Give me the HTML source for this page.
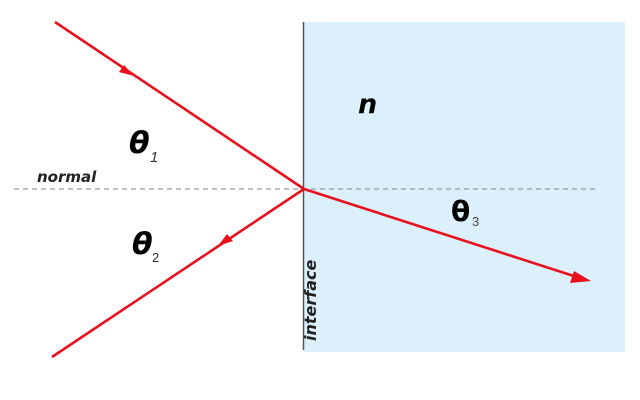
<!DOCTYPE html>
<html><head><style>body{margin:0;background:#fff}svg{display:block}</style></head><body>
<svg width="640" height="400" xmlns="http://www.w3.org/2000/svg" font-family="Liberation Sans, DejaVu Sans, sans-serif">
<rect x="304" y="22" width="321" height="330" fill="#dcf0fc"/>
<line x1="14" y1="189" x2="598" y2="189" stroke="#999" stroke-width="1.3" stroke-dasharray="5,4"/>
<line x1="303.5" y1="22" x2="303.5" y2="350" stroke="#555" stroke-width="1.5"/>
<g stroke="#e8101c" stroke-width="2.6" fill="none">
<line x1="55" y1="22" x2="304" y2="189"/>
<line x1="304" y1="189" x2="52" y2="357"/>
<line x1="304" y1="189" x2="580" y2="278"/>
</g>
<g fill="#e8101c">
<polygon points="134,76 119,72 124,65"/>
<polygon points="218,246 227,234 233,241"/>
<polygon points="591,281 570,283 574,271"/>
</g>
<text x="358" y="113" font-size="27" font-weight="bold" font-style="italic" font-family="DejaVu Sans, sans-serif">n</text>
<text x="129" y="153" font-size="30" font-weight="bold" font-style="italic" font-family="DejaVu Sans, sans-serif">θ</text>
<text x="150" y="162" font-size="15" font-style="italic" fill="#333">1</text>
<text x="37" y="182" font-size="15" font-weight="bold" font-style="italic" fill="#222" font-family="DejaVu Sans, sans-serif">normal</text>
<text x="132" y="254" font-size="30" font-weight="bold" font-style="italic" font-family="DejaVu Sans, sans-serif">θ</text>
<text x="152" y="262" font-size="13" fill="#333">2</text>
<text x="451" y="221" font-size="28" font-weight="bold" font-family="DejaVu Sans, sans-serif">θ</text>
<text x="472" y="226" font-size="13" fill="#444">3</text>
<text transform="translate(316,341) rotate(-90)" font-size="16" font-weight="bold" font-style="italic" fill="#222" font-family="DejaVu Sans, sans-serif">interface</text>
</svg>
</body></html>
